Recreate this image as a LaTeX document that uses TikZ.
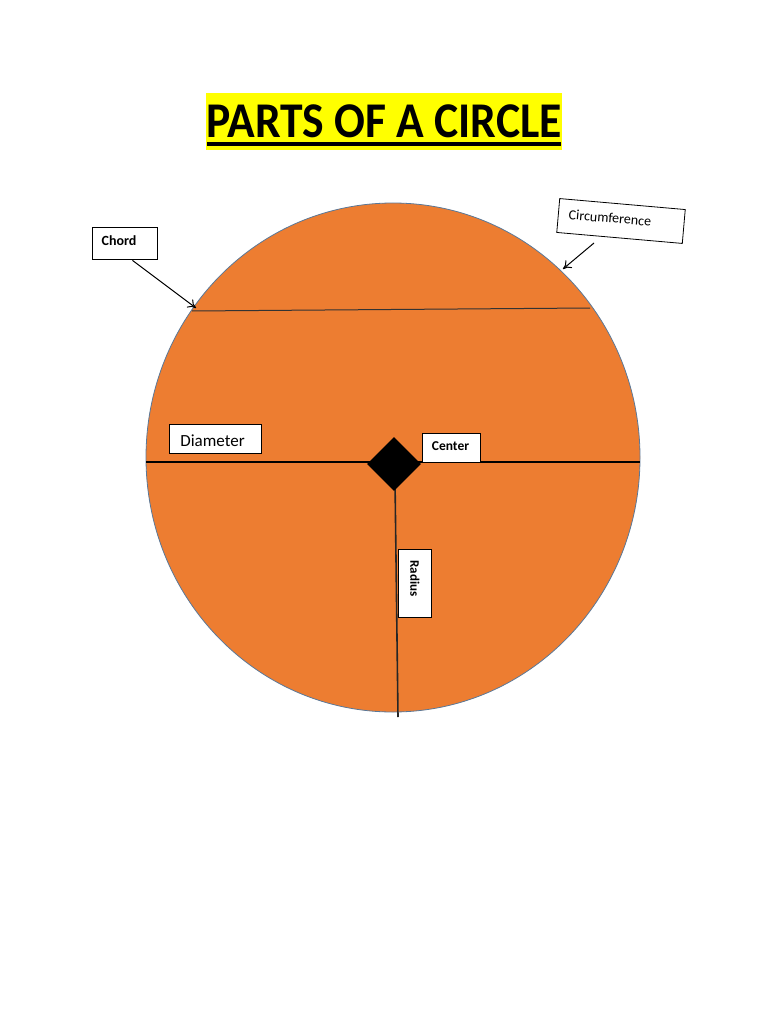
\documentclass[tikz,border=0pt]{standalone}
\usepackage{fontspec}
\setmainfont{Carlito}
\usetikzlibrary{arrows.meta,shapes.geometric}
\definecolor{disk}{HTML}{ED7D31}
\definecolor{rim}{HTML}{5A7898}
\definecolor{hl}{HTML}{FFFF00}
\tikzset{
  labelbox/.style={draw=black, fill=white, line width=0.8pt, inner sep=0pt, anchor=center},
  labeltext/.style={inner sep=0pt, anchor=center},
  pointer/.style={-{To[length=8pt,width=10pt]}, line width=1pt},
}
\begin{document}
\begin{tikzpicture}[x=1pt,y=-1pt]
\useasboundingbox (0,0) rectangle (768,1024);
% title
\node[fill=hl, minimum width=356pt, minimum height=57pt, inner sep=0pt] (titlebg) at (384,121.5) {};
\node[font=\bfseries\fontsize{50}{50}\selectfont, inner sep=0pt, xscale=0.912] (title) at (384,121) {PARTS OF A CIRCLE};
\draw[line width=4pt] (207,144) -- (561,144);
% circle
\draw[fill=disk, draw=rim, line width=0.8pt] (393,457.5) ellipse [x radius=247, y radius=254.5];
\coordinate (c) at (393,457.5);
% chord
\coordinate (ch1) at (192,311);
\coordinate (ch2) at (590,308);
\draw[line width=1pt, draw=black!80] (ch1) -- (ch2);
% diameter
\coordinate (d1) at (146,462);
\coordinate (d2) at (640,462);
\draw[line width=2pt] (d1) -- (d2);
% radius
\coordinate (r1) at (395,480);
\coordinate (r2) at (398,717);
\draw[line width=1.6pt, draw=black!85] (r1) -- (r2);
% center diamond
\node[diamond, fill=black, minimum width=54pt, minimum height=54pt, inner sep=0pt] (center) at (394,464) {};
% label boxes
\node[labelbox, minimum width=65pt, minimum height=32pt] (chord) at (124.5,243) {};
\node[labelbox, minimum width=126pt, minimum height=34pt, rotate=-5] (circ) at (621,221) {};
\node[labelbox, minimum width=92pt, minimum height=29pt] (diam) at (215,438.5) {};
\node[labelbox, minimum width=58pt, minimum height=29pt] (cent) at (451,447.5) {};
\node[labelbox, minimum width=68pt, minimum height=33pt, rotate=-90] (rad) at (414.5,583) {};
% label texts
\node[labeltext, font=\bfseries\fontsize{14}{14}\selectfont] (chordt) at (119,241) {Chord};
\node[labeltext, rotate=-5, font=\fontsize{14}{14}\selectfont] (circt) at (610,218) {Circumference};
\node[labeltext, font=\fontsize{17}{17}\selectfont] (diamt) at (212.5,440.5) {Diameter};
\node[labeltext, font=\bfseries\fontsize{13.5}{13.5}\selectfont] (centt) at (450.5,446.5) {Center};
\node[labeltext, rotate=-90, font=\bfseries\fontsize{13}{13}\selectfont] (radt) at (415,578.5) {Radius};
% pointers
\coordinate (chordtip) at (196,308);
\coordinate (circtip) at (563,269);
\draw[pointer] (chord.south) ++(8,1) -- (chordtip);
\draw[pointer] (594,243) -- (circtip);
\end{tikzpicture}
\end{document}
